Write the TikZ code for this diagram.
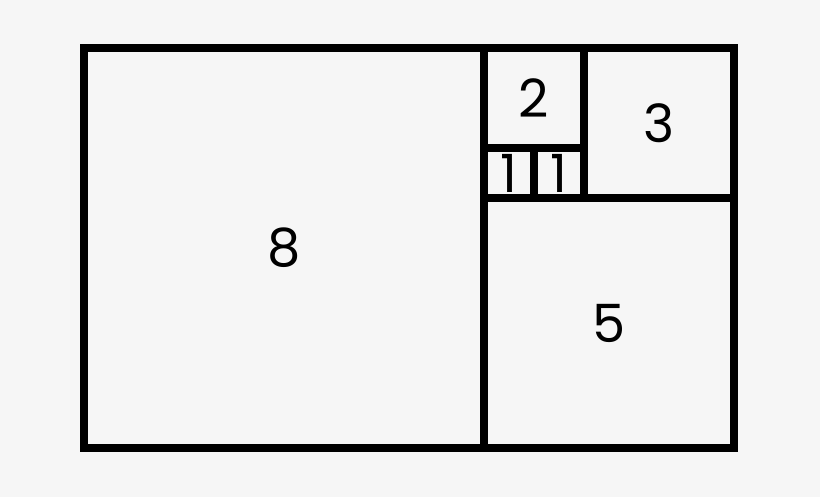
\documentclass[tikz,border=0pt]{standalone}
\usepackage{fontspec}
\setmainfont{Poppins}
\definecolor{paper}{HTML}{F6F6F6}

\begin{document}
\begin{tikzpicture}
[squareDecorate/.style={shape=rectangle,draw,line width=4pt,inner sep=0pt,
   font=\fontsize{30}{30}\selectfont}]
\fill[paper] (-1.68,-0.98) rectangle (14.72,8.96);
\useasboundingbox (-1.68,-0.98) rectangle (14.72,8.96);
%% squares of the golden spiral
\foreach \squarename/\x/\y/\side in {
  8/4/4/8, 5/10.5/2.5/5, 3/11.5/6.5/3, 2/9/7/2, 1a/8.5/5.5/1, 1b/9.5/5.5/1}
{
  \node (sq\squarename) at (\x,\y) [squareDecorate,minimum size=\side cm] {\side};
}
\end{tikzpicture}
\end{document}
